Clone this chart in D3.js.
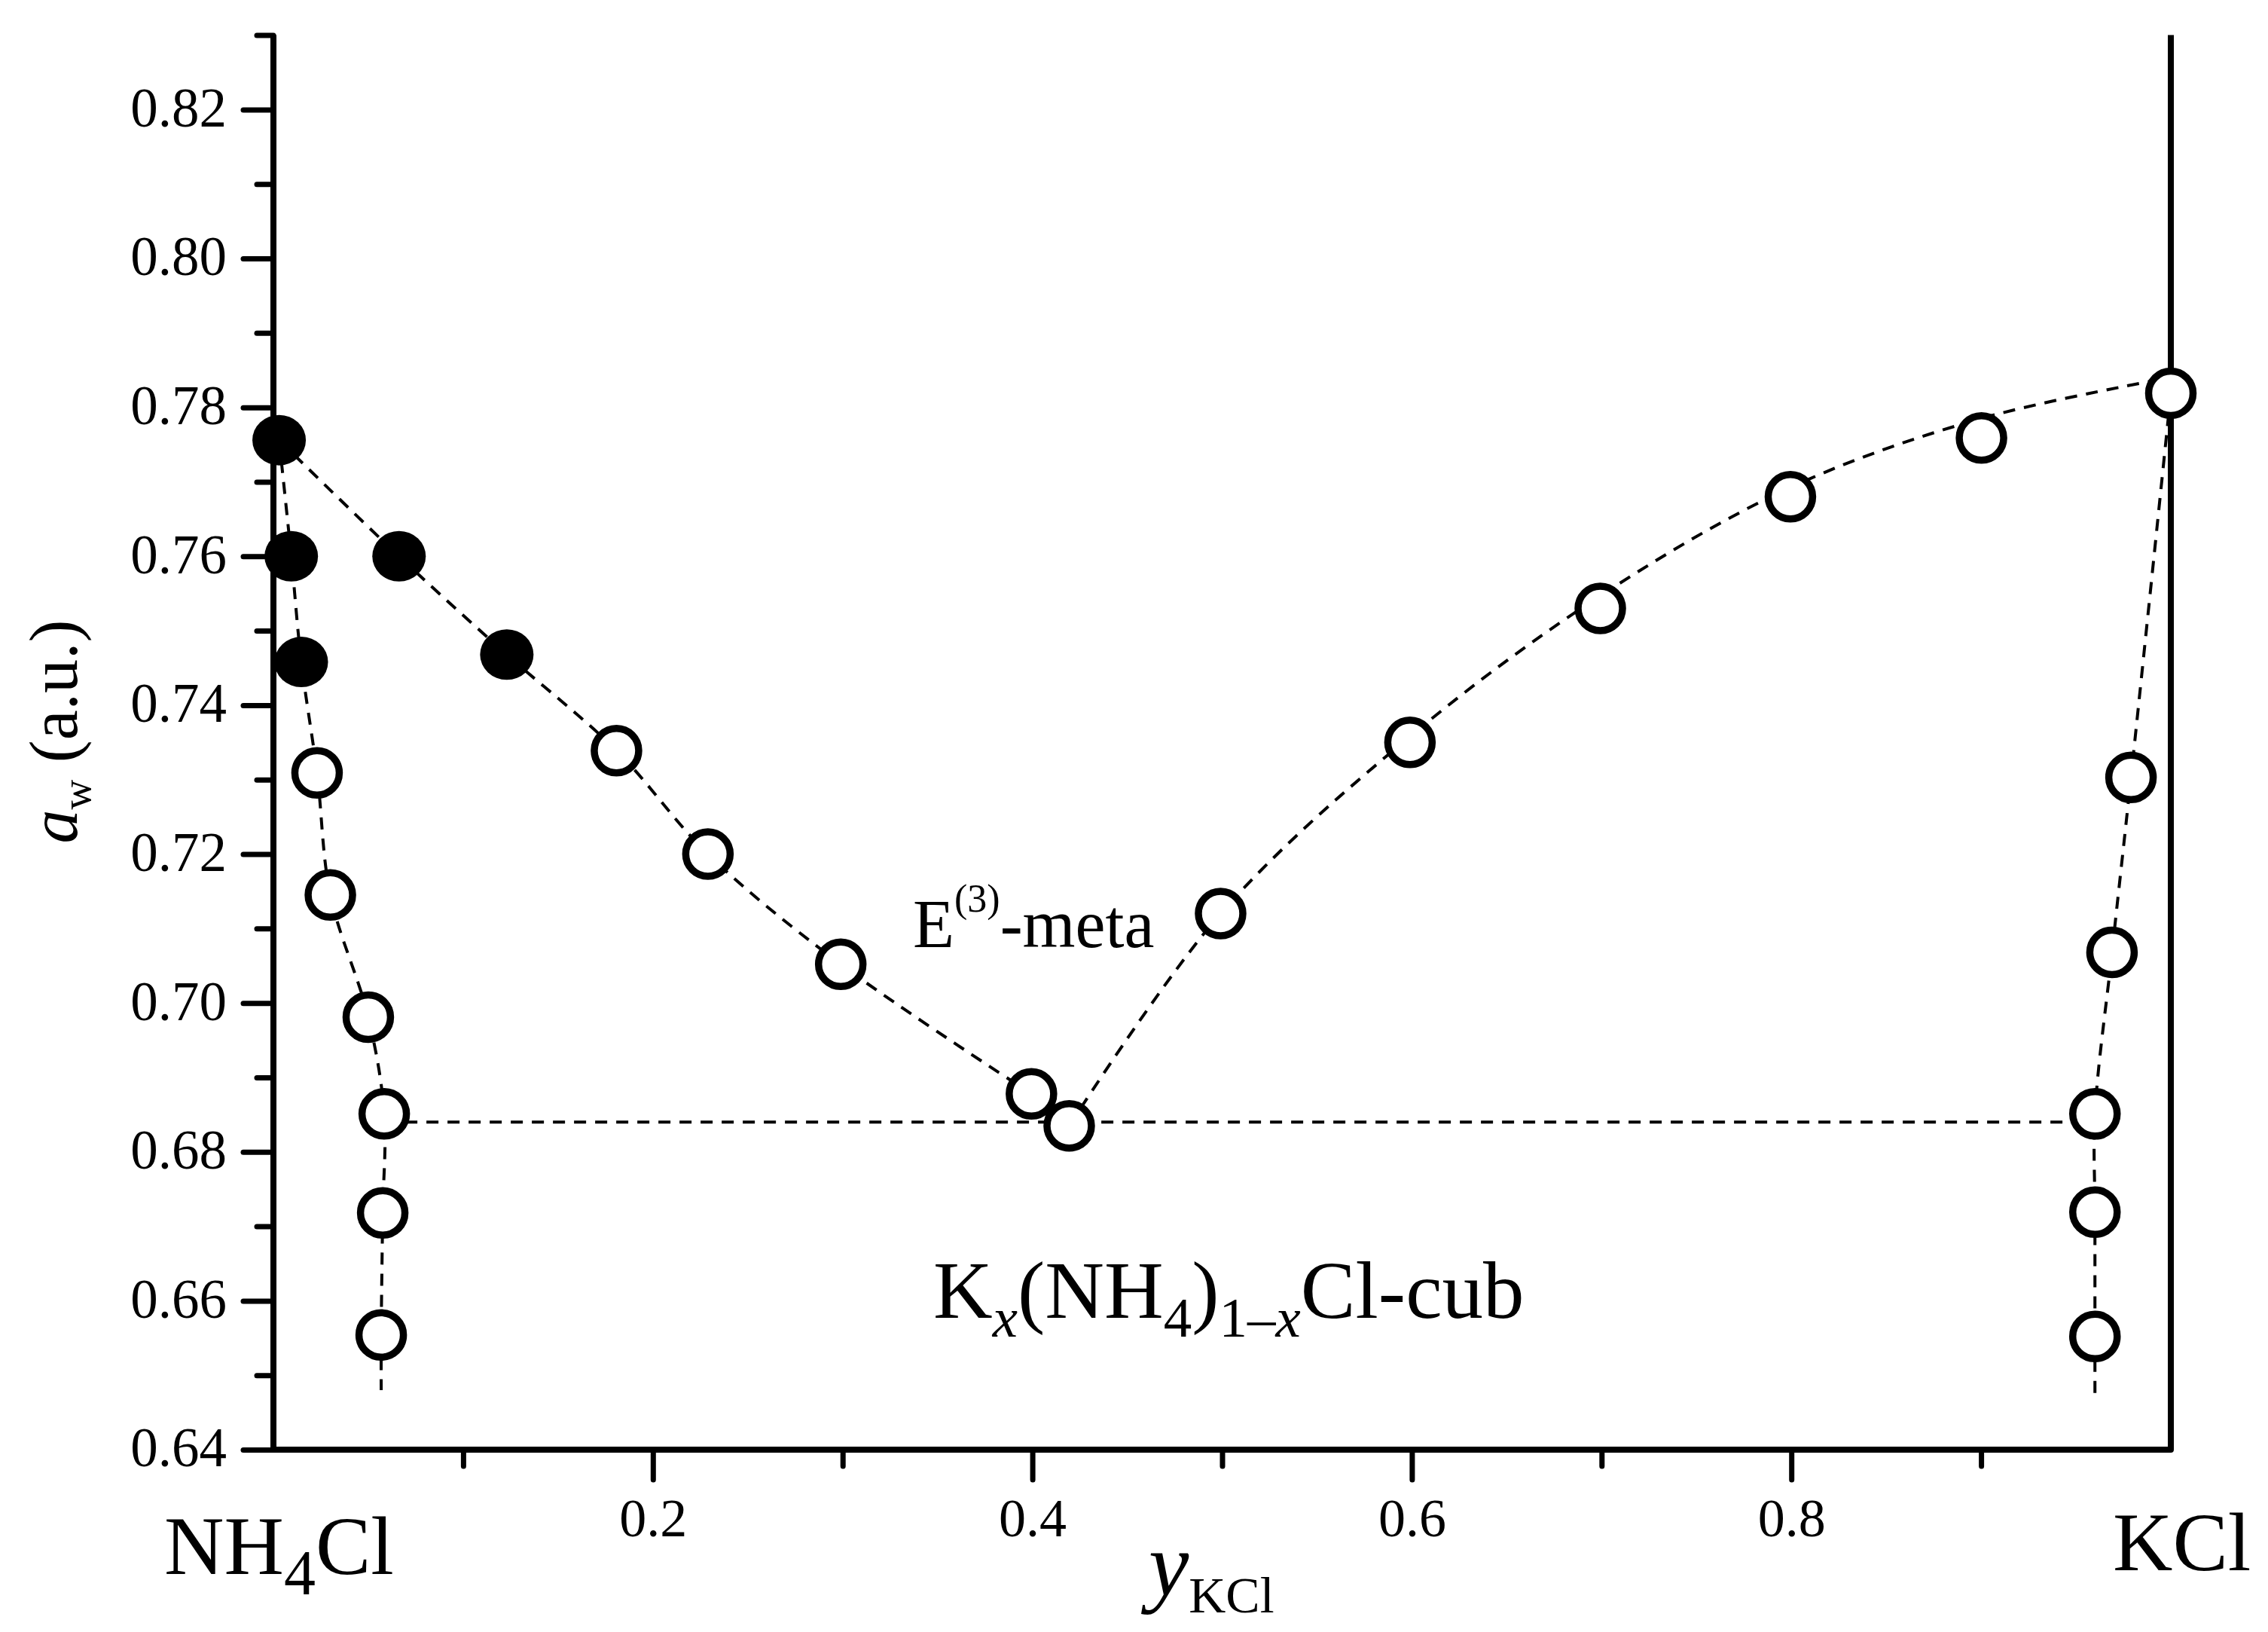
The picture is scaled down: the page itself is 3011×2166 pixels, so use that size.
<!DOCTYPE html>
<html>
<head>
<meta charset="utf-8">
<script src="https://cdn.jsdelivr.net/npm/d3@7"></script>
<style>
  html, body { margin: 0; padding: 0; background: #fff; }
  svg { display: block; }
  text { font-family: "Liberation Serif", "Times New Roman", serif; fill: #000; }
</style>
</head>
<body>
<svg id="chart" width="3011" height="2166"></svg>
<script>
// ---------- data ----------
const xMajorTicks = [0.2, 0.4, 0.6, 0.8];
const xMinorTicks = [0.1, 0.3, 0.5, 0.7, 0.9];
const yMajorTicks = [0.64, 0.66, 0.68, 0.70, 0.72, 0.74, 0.76, 0.78, 0.80, 0.82];
const yMinorTicks = [0.65, 0.67, 0.69, 0.71, 0.73, 0.75, 0.77, 0.79, 0.81, 0.83];

// filled circles (NH4Cl-rich solid)
const filledX = [0.003, 0.0094, 0.0147, 0.0662, 0.123];
const filledY = [0.7756, 0.7600, 0.7458, 0.7600, 0.7468];

// open circles
const nh4SideX = [0.023, 0.030, 0.050, 0.0584, 0.0576, 0.0568];
const nh4SideY = [0.7309, 0.7145, 0.6981, 0.6851, 0.6718, 0.6554];
const metaLeftX = [0.1808, 0.229, 0.299, 0.3995];
const metaLeftY = [0.7339, 0.7200, 0.7052, 0.6878];
const metaRightX = [0.4194, 0.4992, 0.599, 0.6993, 0.7995, 0.9002, 1.0];
const metaRightY = [0.6835, 0.7120, 0.7350, 0.7530, 0.7680, 0.7759, 0.7819];
const kclSideX = [0.979, 0.969, 0.960, 0.960, 0.960];
const kclSideY = [0.7303, 0.7068, 0.6851, 0.6719, 0.6552];

// dashed guide curves
const curveNH4X = [0.003, 0.0094, 0.0147, 0.023, 0.030, 0.050, 0.0584, 0.0576, 0.0568, 0.0568];
const curveNH4Y = [0.7756, 0.7600, 0.7458, 0.7309, 0.7145, 0.6981, 0.6851, 0.6718, 0.6554, 0.648];
const curveMetaLX = [0.003, 0.0662, 0.123, 0.1808, 0.229, 0.299, 0.3995];
const curveMetaLY = [0.7756, 0.7600, 0.7468, 0.7339, 0.7200, 0.7052, 0.6878];
const curveMetaRX = [0.4194, 0.4992, 0.6, 0.7, 0.8, 0.9, 1.0];
const curveMetaRY = [0.6835, 0.7120, 0.7360, 0.7548, 0.7693, 0.7785, 0.7840];
const curveKClX = [1.0, 0.979, 0.969, 0.960, 0.960, 0.960, 0.960];
const curveKClY = [0.7819, 0.7303, 0.7068, 0.6851, 0.6719, 0.6552, 0.647];
const tieX = [0.0584, 0.960];
const tieY = [0.684, 0.684];

// ---------- chart ----------
const svg = d3.select("#chart");
svg.append("rect").attr("width", 3011).attr("height", 2166).attr("fill", "#fff");

const x = d3.scaleLinear().domain([0, 1]).range([363, 2882]);
const y = d3.scaleLinear().domain([0.64, 0.83]).range([1924, 46.6]);

const zip = (xs, ys) => xs.map((v, i) => [v, ys[i]]);

function styleAxis(g) {
  g.select(".domain").remove();
  g.selectAll(".tick line").attr("stroke", "#000").attr("stroke-width", 7).attr("stroke-linecap", "round");
}

const yMajor = svg.append("g").attr("transform", `translate(${x(0)},0)`)
  .call(d3.axisLeft(y).tickValues(yMajorTicks).tickSize(40).tickPadding(22)
    .tickFormat(d3.format(".2f")).tickSizeOuter(0));
styleAxis(yMajor);
yMajor.selectAll(".tick text").attr("font-size", 73).attr("dy", "0.3em")
  .attr("font-family", "Liberation Serif");

const yMinor = svg.append("g").attr("transform", `translate(${x(0)},0)`)
  .call(d3.axisLeft(y).tickValues(yMinorTicks).tickSize(22).tickFormat("").tickSizeOuter(0));
styleAxis(yMinor);

const xMajor = svg.append("g").attr("transform", `translate(0,${y(0.64)})`)
  .call(d3.axisBottom(x).tickValues(xMajorTicks).tickSize(40).tickPadding(24)
    .tickFormat(d3.format(".1f")).tickSizeOuter(0));
styleAxis(xMajor);
xMajor.selectAll(".tick text").attr("font-size", 72).attr("dy", "0.71em")
  .attr("font-family", "Liberation Serif");

const xMinor = svg.append("g").attr("transform", `translate(0,${y(0.64)})`)
  .call(d3.axisBottom(x).tickValues(xMinorTicks).tickSize(22).tickFormat("").tickSizeOuter(0));
styleAxis(xMinor);

// frame (left, bottom, right)
const frame = d3.path();
frame.moveTo(x(0), y(0.83));
frame.lineTo(x(0), y(0.64));
frame.lineTo(x(1), y(0.64));
frame.lineTo(x(1), y(0.83));
svg.append("path").attr("d", frame.toString()).attr("fill", "none")
  .attr("stroke", "#000").attr("stroke-width", 8).attr("stroke-linejoin", "round");

// dashed curves
const smooth = d3.line().x(d => x(d[0])).y(d => y(d[1])).curve(d3.curveCatmullRom.alpha(0.5));
const straight = d3.line().x(d => x(d[0])).y(d => y(d[1]));
const curves = [
  { pts: zip(curveNH4X, curveNH4Y), gen: smooth },
  { pts: zip(curveMetaLX, curveMetaLY), gen: smooth },
  { pts: zip(curveMetaRX, curveMetaRY), gen: smooth },
  { pts: zip(curveKClX, curveKClY), gen: smooth },
  { pts: zip(tieX, tieY), gen: straight }
];
svg.append("g").selectAll("path").data(curves).join("path")
  .attr("d", d => d.gen(d.pts))
  .attr("fill", "none").attr("stroke", "#000").attr("stroke-width", 4)
  .attr("stroke-dasharray", "16,12");

// open circles
const openPts = [].concat(zip(nh4SideX, nh4SideY), zip(metaLeftX, metaLeftY),
  zip(metaRightX, metaRightY), zip(kclSideX, kclSideY));
svg.append("g").selectAll("circle").data(openPts).join("circle")
  .attr("cx", d => x(d[0])).attr("cy", d => y(d[1])).attr("r", 29.5)
  .attr("fill", "#fff").attr("stroke", "#000").attr("stroke-width", 9.5);

// filled markers (slightly wide, as in the reference)
svg.append("g").selectAll("ellipse").data(zip(filledX, filledY)).join("ellipse")
  .attr("cx", d => x(d[0])).attr("cy", d => y(d[1])).attr("rx", 35.5).attr("ry", 33.5)
  .attr("fill", "#000");

// ---------- labels ----------
const yt = svg.append("text").attr("transform", "translate(102,971) rotate(-90)")
  .attr("text-anchor", "middle").attr("font-size", 90);
yt.append("tspan").attr("font-style", "italic").text("a");
yt.append("tspan").attr("font-size", 55).attr("dy", 18).text("w");
yt.append("tspan").attr("dy", -18).text("\u00A0(a.u.)");

const xt = svg.append("text").attr("x", 1525).attr("y", 2117).attr("font-size", 120);
xt.append("tspan").attr("font-style", "italic").text("y");
xt.append("tspan").attr("font-size", 68).attr("dy", 23).text("KCl");

const nh = svg.append("text").attr("x", 218).attr("y", 2089).attr("font-size", 110);
nh.append("tspan").text("NH");
nh.append("tspan").attr("font-size", 84).attr("dy", 27).text("4");
nh.append("tspan").attr("dy", -27).text("Cl");

svg.append("text").attr("x", 2805).attr("y", 2084).attr("font-size", 110).text("KCl");

const em = svg.append("text").attr("x", 1212).attr("y", 1257).attr("font-size", 90);
em.append("tspan").text("E");
em.append("tspan").attr("font-size", 52).attr("dy", -47).text("(3)");
em.append("tspan").attr("dy", 47).text("-meta");

const kc = svg.append("text").attr("x", 1239).attr("y", 1749).attr("font-size", 109);
kc.append("tspan").text("K");
kc.append("tspan").attr("font-size", 75).attr("dy", 25).attr("font-style", "italic").text("x");
kc.append("tspan").attr("dy", -25).text("(NH");
kc.append("tspan").attr("font-size", 75).attr("dy", 25).text("4");
kc.append("tspan").attr("dy", -25).text(")");
kc.append("tspan").attr("font-size", 75).attr("dy", 25).text("1\u2013");
kc.append("tspan").attr("font-size", 75).attr("font-style", "italic").text("x");
kc.append("tspan").attr("dy", -25).text("Cl-cub");
</script>
</body>
</html>
